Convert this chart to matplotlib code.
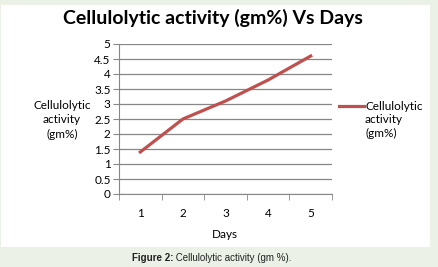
import matplotlib.pyplot as plt
from matplotlib.patches import Rectangle

days = [1, 2, 3, 4, 5]
activity = [1.4, 2.5, 3.1, 3.8, 4.6]
yticks = [0, 0.5, 1, 1.5, 2, 2.5, 3, 3.5, 4, 4.5, 5]
ytick_labels = ['0', '0.5', '1', '1.5', '2', '2.5', '3', '3.5', '4', '4.5', '5']
series_lines = ['Cellulolytic', 'activity', '(gm%)']

W, H = 439, 267
fig = plt.figure(figsize=(W / 100, H / 100), dpi=100)
fig.patch.set_facecolor('#ebf1e6')

# white chart panel
fig.patches.append(Rectangle((1 / W, 1 - 247 / H), 429 / W, 242 / H,
                             transform=fig.transFigure, facecolor='white',
                             edgecolor='none', zorder=-10))

ax = fig.add_axes([119 / W, 1 - 194 / H, 213 / W, 150 / H])
ax.set_facecolor('white')
line, = ax.plot(days, activity, color='#c0504d', lw=2.3)
ax.set_xlim(0.5, 5.5)
ax.set_ylim(0, 5)
ax.set_yticks(yticks)
ax.set_yticklabels(ytick_labels)
ax.set_xticks(days)
ax.set_xticks([0.5, 1.5, 2.5, 3.5, 4.5, 5.5], minor=True)
ax.grid(axis='y', color='#878787', lw=0.9)
ax.set_axisbelow(True)
for s in ['top', 'right']:
    ax.spines[s].set_visible(False)
ax.spines['left'].set_color('#878787')
ax.spines['bottom'].set_color('#878787')
ax.tick_params(axis='y', length=4, color='#878787', labelsize=8.5, pad=2)
ax.tick_params(axis='x', which='major', length=0, labelsize=8.5, pad=10)
ax.tick_params(axis='x', which='minor', length=4, color='#878787')
for t in ax.get_xticklabels() + ax.get_yticklabels():
    t.set_family('Lato')

fig.text(213 / W, 1 - 18 / H, 'Cellulolytic activity (gm%) Vs Days',
         ha='center', va='center', fontsize=14, fontweight='bold',
         family='Lato')
fig.text(62 / W, 1 - 120 / H, '\n'.join(series_lines), ha='center',
         va='center', fontsize=8.5, family='Lato', linespacing=1.35)
fig.text(225 / W, 1 - 235 / H, 'Days', ha='center', va='center',
         fontsize=8.5, family='Lato')

# legend: handle sits on the first line of the label
leg = ax.legend([line], [series_lines[0]], loc='center left',
                bbox_to_anchor=(1.0, (194 - 107) / 150), frameon=False,
                prop={'family': 'Lato', 'size': 8.5}, handlelength=2.1,
                handletextpad=0.1, borderaxespad=0.2)
fig.canvas.draw()
lx = leg.get_texts()[0].get_window_extent().x0 / W
fig.text(lx, 1 - 114 / H, '\n'.join(series_lines[1:]), ha='left', va='top',
         fontsize=8.5, family='Lato', linespacing=1.35)

cap = fig.text(132 / W, 1 - 258 / H, 'Figure 2:', ha='left', va='center',
               fontsize=7, fontweight='bold', family='Liberation Sans',
               color='#222222')
fig.canvas.draw()
bb = cap.get_window_extent().transformed(fig.transFigure.inverted())
fig.text(bb.x1, 1 - 258 / H, ' Cellulolytic activity (gm %).', ha='left',
         va='center', fontsize=7, family='Liberation Sans', color='#222222')

fig.savefig('out.png', dpi=100, facecolor=fig.get_facecolor())
